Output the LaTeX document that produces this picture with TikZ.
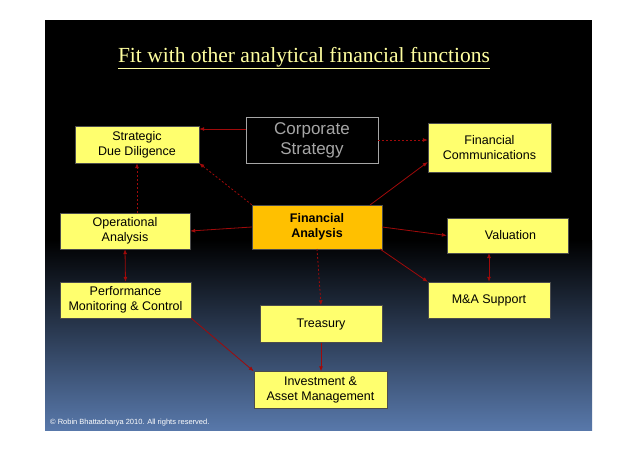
\documentclass[tikz,border=0pt]{standalone}
\usepackage{fontspec}
\setmainfont{Liberation Sans}
\newfontfamily\titlefont{Liberation Serif}
\usetikzlibrary{arrows.meta}
\definecolor{ybox}{RGB}{255,255,110}
\definecolor{obox}{RGB}{255,192,0}
\definecolor{arr}{RGB}{160,10,10}
\definecolor{slidebot}{RGB}{88,120,170}
\definecolor{ttl}{RGB}{255,255,160}
\tikzset{
 yb/.style={draw=black!70,fill=ybox,align=center,font=\fontsize{12.5}{15}\selectfont,inner sep=0pt},
 con/.style={draw=arr,line width=0.8pt,-{Latex[length=5pt,width=4pt]}},
 dcon/.style={con,dashed,dash pattern=on 2pt off 2pt},
}
\begin{document}
\begin{tikzpicture}[x=1pt,y=-1pt]
\useasboundingbox (0,0) rectangle (638,451);
\fill[white] (0,0) rectangle (638,451);
\fill[black] (45,20) rectangle (592,240);
\shade[top color=black,bottom color=slidebot] (45,240) rectangle (592,430);
\node[text=ttl,font=\titlefont\fontsize{21.5}{24}\selectfont] (title) at (304,58) {\underline{Fit with other analytical financial functions}};
\node[yb,minimum width=124pt,minimum height=37pt] (sdd) at (137,144.5) {Strategic\\Due Diligence};
\node[draw=gray!70,fill=black,text=gray!70,align=center,font=\fontsize{17}{20}\selectfont,minimum width=132pt,minimum height=46pt,inner sep=0pt] (cs) at (312,140) {Corporate\\Strategy};
\node[yb,minimum width=123pt,minimum height=49pt] (fc) at (489.5,147.5) {Financial\\Communications};
\node[yb,minimum width=130pt,minimum height=36pt] (oa) at (125,231) {Operational\\Analysis};
\node[yb,fill=obox,font=\bfseries\fontsize{12.5}{15}\selectfont,minimum width=130pt,minimum height=44pt] (fa) at (317,227) {Financial\\Analysis};
\node[yb,minimum width=121pt,minimum height=35pt] (val) at (507.5,235.5) {\hspace*{6pt}Valuation};
\node[yb,minimum width=131pt,minimum height=36pt] (pmc) at (125.5,300) {Performance\\Monitoring \& Control};
\node[yb,minimum width=122pt,minimum height=36pt] (ma) at (489,300) {M\&A Support};
\node[yb,minimum width=122pt,minimum height=37pt] (tr) at (321,324) {Treasury};
\node[yb,minimum width=133pt,minimum height=37pt] (inv) at (320.5,390) {Investment \&\\Asset Management};
\node[text=white,font=\fontsize{7.5}{9}\selectfont,anchor=west,inner sep=0pt] (foot) at (50,423) {© Robin Bhattacharya 2010. All rights reserved.};
\draw[con] (cs.west|-0,129) -- (sdd.east|-0,129);
\draw[dcon] (cs.east|-0,140) -- (fc.west|-0,140);
\draw[dcon] (fa.north west) -- (sdd.south east);
\draw[con] (370,205) -- (fc.west|-0,162);
\draw[con] (fa.west|-0,227) -- (oa.east);
\draw[con] (fa.east|-0,227) -- (val.west);
\draw[con] (380,249) -- (ma.north west);
\draw[dcon] (317,249) -- (tr.north);
\draw[dcon] (137,213) -- (sdd.south);
\draw[con,{Latex[length=5pt,width=4pt]}-{Latex[length=5pt,width=4pt]}] (oa.south) -- (pmc.north);
\draw[con,{Latex[length=5pt,width=4pt]}-{Latex[length=5pt,width=4pt]}] (489,253) -- (ma.north);
\draw[con] (pmc.south east) -- (inv.north west);
\draw[con] (tr.south) -- (inv.north-|tr.south);
\end{tikzpicture}
\end{document}
